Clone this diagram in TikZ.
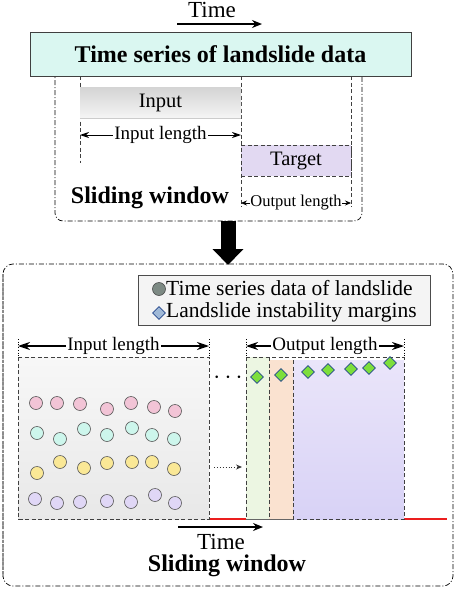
\documentclass[tikz,border=0pt]{standalone}
\usepackage{fontspec}
\setmainfont{Liberation Serif}
\usetikzlibrary{arrows.meta,shapes.geometric}
\definecolor{seriesfill}{RGB}{218,247,241}
\definecolor{targetfill}{RGB}{226,217,242}
\definecolor{dotpink}{RGB}{242,196,214}
\definecolor{dotcyan}{RGB}{205,246,236}
\definecolor{dotyellow}{RGB}{250,232,150}
\definecolor{dotlilac}{RGB}{224,215,246}
\definecolor{marginfill}{RGB}{125,222,60}
\definecolor{marginedge}{RGB}{35,70,140}
\definecolor{colgreen}{RGB}{236,246,226}
\definecolor{colorange}{RGB}{250,226,208}
\definecolor{collilactop}{RGB}{234,229,250}
\definecolor{collilacbot}{RGB}{216,210,246}
\definecolor{legendfill}{RGB}{244,244,244}
\definecolor{legdot}{RGB}{125,138,132}
\definecolor{legdiamond}{RGB}{160,185,215}
\definecolor{axisred}{RGB}{235,30,30}
\tikzset{
  boldlabel/.style={font=\fontsize{24}{26}\selectfont\bfseries},
  timelabel/.style={font=\fontsize{23}{25}\selectfont},
  boxlabel/.style={font=\fontsize{20.5}{23}\selectfont},
  dimarrow/.style={{Stealth[length=12pt,width=8pt]}-{Stealth[length=12pt,width=8pt]},line width=1.2pt},
  windim/.style={{Stealth[length=9pt,width=6pt]}-{Stealth[length=9pt,width=6pt]},line width=0.9pt},
  smalldim/.style={{Stealth[length=6pt,width=5pt]}-{Stealth[length=6pt,width=5pt]},line width=0.7pt},
  dimtext/.style={fill=white,inner sep=1pt,font=\fontsize{19}{21}\selectfont},
  timearrow/.style={-{Stealth[length=10pt,width=8pt]},line width=1.4pt},
  windowline/.style={dash pattern=on 5pt off 2pt on 1pt off 2pt,line width=0.7pt},
  guide/.style={dash pattern=on 4pt off 2.5pt,line width=0.7pt,draw=black!75},
  tick/.style={dotted,line width=0.7pt},
  dot/.style={draw=black!65,line width=0.6pt},
  margin/.style={diamond,aspect=1,minimum size=13pt,inner sep=0pt,draw=marginedge,fill=marginfill,line width=0.7pt},
  bigarrow/.style={line width=15pt,-{Triangle[length=16pt,width=30pt]}}
}
\begin{document}
\begin{tikzpicture}[x=1pt,y=-1pt]
  \useasboundingbox (0,0) rectangle (456,589);
  % upper part
  \node[timelabel,inner sep=0pt] (toptime) at (212,10) {Time};
  \coordinate (toptimea) at (177,24);
  \coordinate (toptimeb) at (262,24);
  \draw[timearrow] (toptimea) -- (toptimeb);
  \draw[windowline,rounded corners=8pt] (55,70) -- (55,221) -- (362,221) -- (362,70);
  \node[draw=black!75,fill=seriesfill,line width=0.8pt,minimum width=381pt,minimum height=44pt,boldlabel] (series) at (220.5,54) {Time series of landslide data};
  \draw[guide] (80,76) -- (80,163);
  \draw[guide] (241,76) -- (241,207);
  \draw[guide] (351,76) -- (351,207);
  \node[top color=black!17,bottom color=black!4,minimum width=161pt,minimum height=31pt,inner sep=0pt,boxlabel] (input) at (160.5,102.5) {Input};
  \draw[black!20,line width=0.6pt] (input.south west) -- (input.south east);
  \coordinate (inla) at (80,135);
  \coordinate (inlb) at (241,135);
  \draw[windim] (inla) -- (inlb) node[dimtext,midway] (inlen) {Input length};
  \node[draw=black!75,guide,fill=targetfill,minimum width=110pt,minimum height=31pt,inner sep=0pt,boxlabel] (target) at (296,160.5) {Target};
  \coordinate (outla) at (241,203);
  \coordinate (outlb) at (351,203);
  \draw[smalldim] (outla) -- (outlb) node[fill=white,inner sep=0.5pt,font=\fontsize{16.5}{18}\selectfont,midway] (outlen) {Output length};
  \node[boldlabel] (topwin) at (150,198) {Sliding window};
  % arrow down
  \coordinate (winbot) at (228,221);
  \coordinate (boxtop) at (228,265);
  \draw[bigarrow] (winbot) -- (boxtop);
  % lower part
  \draw[windowline,rounded corners=10pt] (3,264) rectangle (453,586);
  \draw[black!45,line width=1.6pt,dash pattern=on 3pt off 1.5pt] (3,274) -- (3,576);
  \draw[draw=black!70,fill=legendfill,line width=0.7pt] (138,275) rectangle (430,325);
  \fill[legdot,draw=black!70,line width=0.6pt] (159,289) circle (6.5pt);
  \node[margin,fill=legdiamond,minimum size=13pt] (legm) at (159,313) {};
  \node[anchor=west,inner sep=0pt,font=\fontsize{21.5}{23}\selectfont] (legdata) at (166,288) {Time series data of landslide};
  \node[anchor=west,inner sep=0pt,font=\fontsize{21.5}{23}\selectfont] (legmargin) at (166,312) {Landslide instability margins};
  \draw[axisred,line width=1.1pt] (97,519) -- (447,519);
  \shade[top color=black!3,bottom color=black!9] (18,357) rectangle (209,519);
  \draw[guide] (18,357) rectangle (209,519);
  \draw[dot,fill=dotpink] (36,403) circle (6.5pt) (57,403) circle (6.5pt) (80,404) circle (6.5pt) (107,409) circle (6.5pt) (131,403) circle (6.5pt) (154,407) circle (6.5pt) (175,411) circle (6.5pt);
  \draw[dot,fill=dotcyan] (37,433) circle (6.5pt) (60,439) circle (6.5pt) (84,429) circle (6.5pt) (107,435) circle (6.5pt) (132,428) circle (6.5pt) (152,435) circle (6.5pt) (174,439) circle (6.5pt);
  \draw[dot,fill=dotyellow] (37,473) circle (6.5pt) (60,462) circle (6.5pt) (84,468) circle (6.5pt) (107,463) circle (6.5pt) (132,462) circle (6.5pt) (152,462) circle (6.5pt) (174,469) circle (6.5pt);
  \draw[dot,fill=dotlilac] (35,499) circle (6.5pt) (57,503) circle (6.5pt) (80,502) circle (6.5pt) (107,501) circle (6.5pt) (131,502) circle (6.5pt) (155,495) circle (6.5pt) (175,503) circle (6.5pt);
  \draw[tick] (18,339) -- (18,357);
  \draw[tick] (209,339) -- (209,357);
  \coordinate (binla) at (18,346);
  \coordinate (binlb) at (209,346);
  \draw[dimarrow] (binla) -- (binlb) node[dimtext,midway] (binlen) {Input length};
  \node[font=\fontsize{24}{26}\selectfont\bfseries] (gap) at (228,378) {$\cdots$};
  \coordinate (slidea) at (214,467);
  \coordinate (slideb) at (242,467);
  \draw[dotted,line width=0.9pt,black!80,-{Stealth[length=6pt,width=5pt]}] (slidea) -- (slideb);
  \fill[colgreen] (246,357) rectangle (269,519);
  \fill[colorange] (269,360) rectangle (293,519);
  \shade[top color=collilactop,bottom color=collilacbot] (293,360) rectangle (404,519);
  \draw[guide] (246,357) -- (404,357);
  \draw[guide] (246,357) -- (246,519);
  \draw[guide] (269,357) -- (269,519);
  \draw[guide] (293,360) -- (293,519) -- (404,519) -- (404,357);
  \draw[black!60,line width=0.6pt] (246,519) -- (293,519);
  \draw[tick] (246,339) -- (246,357);
  \draw[tick] (404,339) -- (404,357);
  \coordinate (boutla) at (246,346);
  \coordinate (boutlb) at (404,346);
  \draw[dimarrow] (boutla) -- (boutlb) node[dimtext,midway] (boutlen) {Output length};
  \node[margin] (m1) at (257,377) {};
  \node[margin] (m2) at (281,375) {};
  \node[margin] (m3) at (308,372) {};
  \node[margin] (m4) at (328,370) {};
  \node[margin] (m5) at (351,369) {};
  \node[margin] (m6) at (369,368) {};
  \node[margin] (m7) at (390,363) {};
  \coordinate (bottimea) at (178,527);
  \coordinate (bottimeb) at (263,527);
  \draw[timearrow] (bottimea) -- (bottimeb);
  \node[timelabel,inner sep=0pt] (bottime) at (221,542) {Time};
  \node[boldlabel,inner sep=0pt] (botwin) at (227,566) {Sliding window};
\end{tikzpicture}
\end{document}
